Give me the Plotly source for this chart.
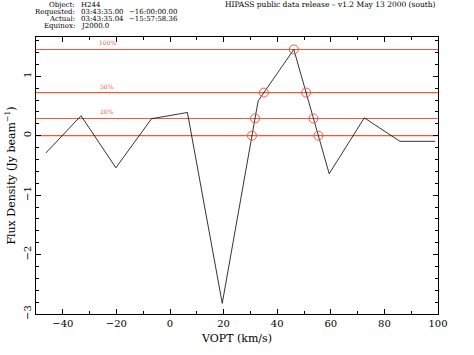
import numpy as np
import plotly.graph_objects as go

velocity = [-46.3, -33.2, -20.2, -6.9, 6.5, 19.5, 32.9, 46.2, 59.4, 72.5, 85.8, 98.9]
flux = [-0.29, 0.335, -0.54, 0.285, 0.39, -2.82, 0.586, 1.45, -0.64, 0.30, -0.095, -0.095]
level_fracs = [1.0, 0.5, 0.2, 0.0]
level_labels = ["100%", "50%", "20%", ""]
header_keys = ["Object:", "Requested:", "Actual:", "Equinox:"]
header_vals1 = ["H244", "03:43:35.00", "03:43:35.04", "J2000.0"]
header_vals2 = ["", "\u221216:00:00.00", "\u221215:57:58.36", ""]
title_right = "HIPASS public data release \u2013 v1.2 May 13 2000 (south)"

RED = "#ef5a3f"
FONT = "DejaVu Serif"
X_RANGE = [-50, 100]

v = np.array(velocity)
f = np.array(flux)
peak_i = int(np.argmax(f))
peak = f[peak_i]

fig = go.Figure()

cx, cy = [], []
for frac, lab in zip(level_fracs, level_labels):
    lev = peak * frac
    fig.add_trace(go.Scatter(x=X_RANGE, y=[lev, lev], mode="lines", showlegend=False,
                             line=dict(color=RED, width=1.1)))
    if lab:
        fig.add_annotation(x=-23.5, y=lev, text=lab, showarrow=False, yanchor="bottom",
                           yshift=1, font=dict(family=FONT, size=6, color=RED))
    if frac == 1.0:
        cx.append(v[peak_i]); cy.append(lev)
        continue
    for i in range(peak_i, 0, -1):
        if (f[i] - lev) * (f[i - 1] - lev) <= 0:
            t = (lev - f[i - 1]) / (f[i] - f[i - 1])
            cx.append(v[i - 1] + t * (v[i] - v[i - 1])); cy.append(lev)
            break
    for i in range(peak_i, len(f) - 1):
        if (f[i] - lev) * (f[i + 1] - lev) <= 0:
            t = (lev - f[i]) / (f[i + 1] - f[i])
            cx.append(v[i] + t * (v[i + 1] - v[i])); cy.append(lev)
            break

fig.add_trace(go.Scatter(x=velocity, y=flux, mode="lines",
                         line=dict(color="black", width=0.8), showlegend=False))
fig.add_trace(go.Scatter(x=cx, y=cy, mode="markers", showlegend=False,
                         marker=dict(symbol="circle-open", size=9, color=RED, line=dict(width=1, color=RED))))

axis_common = dict(showgrid=False, zeroline=False, ticks="inside", mirror="allticks",
                   showline=True, linecolor="black", linewidth=1, tickcolor="black",
                   automargin=False,
                   tickfont=dict(family=FONT, size=10, color="black"))
fig.update_xaxes(range=X_RANGE, dtick=20, tick0=0, ticklen=5,
                 minor=dict(dtick=10, ticks="inside", ticklen=3, tickcolor="black"),
                 title=dict(text="VOPT (km/s)", font=dict(family=FONT, size=11, color="black"), standoff=6),
                 **axis_common)
fig.update_yaxes(range=[-3.0, 1.66], dtick=1, tick0=0, ticklen=5, tickangle=-90,
                 minor=dict(dtick=0.2, ticks="inside", ticklen=3, tickcolor="black"),
                 title=dict(text="Flux Density (Jy beam<sup>\u22121</sup>)",
                            font=dict(family=FONT, size=11, color="black"), standoff=4),
                 **axis_common)

HS = 7
for k, (key, a, b) in enumerate(zip(header_keys, header_vals1, header_vals2)):
    yy = 5 + 7 * k
    ypaper = 1 + (37 - yy) / 277
    fig.add_annotation(xref="paper", yref="paper", x=(77 - 36) / 402, y=ypaper, text=key,
                       showarrow=False, xanchor="right", yanchor="middle",
                       font=dict(family=FONT, size=HS, color="black"))
    fig.add_annotation(xref="paper", yref="paper", x=(79 - 36) / 402, y=ypaper, text=a,
                       showarrow=False, xanchor="left", yanchor="middle",
                       font=dict(family=FONT, size=HS, color="black"))
    if b:
        fig.add_annotation(xref="paper", yref="paper", x=(127 - 36) / 402, y=ypaper, text=b,
                           showarrow=False, xanchor="left", yanchor="middle",
                           font=dict(family=FONT, size=HS, color="black"))
fig.add_annotation(xref="paper", yref="paper", x=1, y=1 + (37 - 5) / 277, text=title_right,
                   showarrow=False, xanchor="right", yanchor="middle",
                   font=dict(family=FONT, size=7.5, color="black"))

fig.update_layout(width=474, height=355, margin=dict(l=36, r=36, t=37, b=41, autoexpand=False),
                  plot_bgcolor="white", paper_bgcolor="white")
fig.write_html("out.html", config={"displayModeBar": False},
               post_script="document.body.style.margin='0';document.body.style.padding='0';")
